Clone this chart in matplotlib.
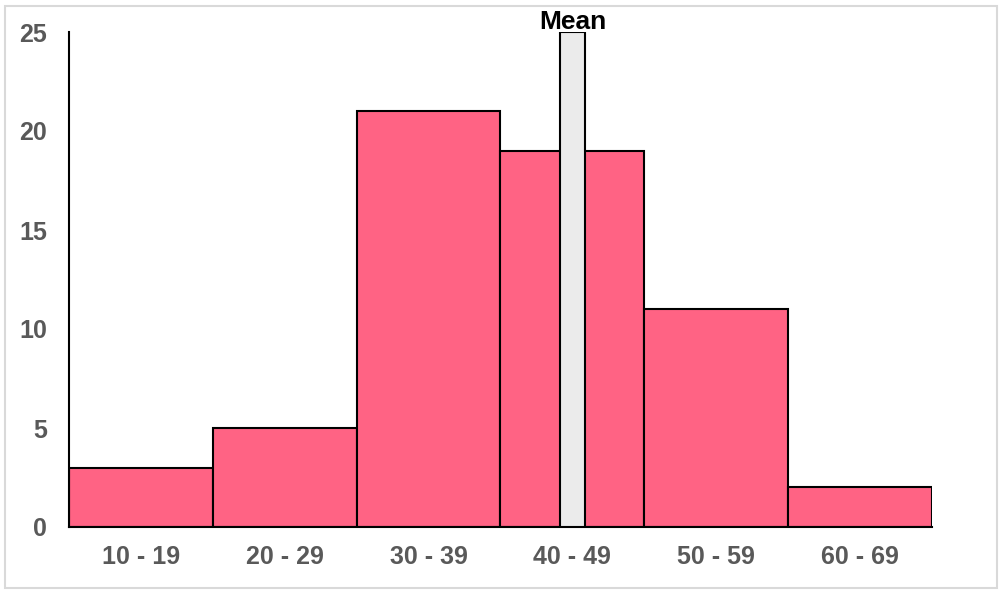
import matplotlib
matplotlib.use("Agg")
import matplotlib.pyplot as plt
from matplotlib.patches import Rectangle

categories = ["10 - 19", "20 - 29", "30 - 39", "40 - 49", "50 - 59", "60 - 69"]
counts = [3, 5, 21, 19, 11, 2]
mean_position = 3.0   # category-axis position of the mean marker
mean_width = 0.17
mean_label = "Mean"
y_ticks = [0, 5, 10, 15, 20, 25]

plt.rcParams['font.family'] = ['Liberation Sans', 'DejaVu Sans']

fig = plt.figure(figsize=(10.04, 5.94), dpi=100)
ax = fig.add_axes([69/1004, 1 - 527/594, (932-69)/1004, (527-32)/594])

x = list(range(len(categories)))
ax.bar(x, counts, width=1.0, color='#FF6384', edgecolor='black', linewidth=1.5, zorder=2)
ax.bar([mean_position], [max(y_ticks)], width=mean_width, color='#EBEBEB',
       edgecolor='black', linewidth=1.5, zorder=3)
ax.annotate(mean_label, xy=(mean_position, max(y_ticks)), xytext=(0, 2),
            textcoords='offset points', ha='center', va='baseline',
            fontsize=19, fontweight='bold', color='black', annotation_clip=False)

ax.set_xlim(-0.5, len(categories) - 0.5)
ax.set_ylim(0, max(y_ticks))
ax.set_yticks(y_ticks)
ax.set_xticks(x)
ax.set_xticklabels(categories)
ax.tick_params(axis='both', length=0, labelsize=18, labelcolor='#595959')
ax.tick_params(axis='y', pad=16)
ax.tick_params(axis='x', pad=13)
for lab in ax.get_xticklabels() + ax.get_yticklabels():
    lab.set_fontweight('bold')

for s in ['top', 'right']:
    ax.spines[s].set_visible(False)
for s in ['left', 'bottom']:
    ax.spines[s].set_linewidth(1.5)
    ax.spines[s].set_color('black')

fig.patches.append(Rectangle((5/1004, 6/594), 992/1004, 582/594, transform=fig.transFigure,
                             fill=False, edgecolor='#D9D9D9', linewidth=1.5))

fig.savefig("out.png", dpi=100)
